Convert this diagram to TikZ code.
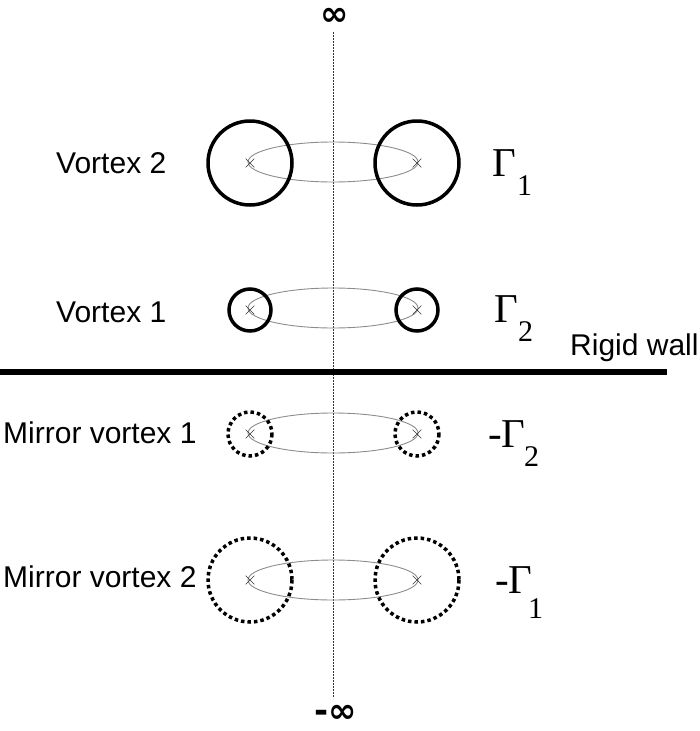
\documentclass[tikz,border=0pt]{standalone}
\usepackage{fontspec}
\setmainfont{Liberation Sans}
\newfontfamily\gfont{Liberation Serif}
\newfontfamily\dvfont{DejaVu Sans}
\usetikzlibrary{shapes.misc}
\begin{document}
\begin{tikzpicture}[x=1pt,y=-1pt,
  lab/.style={font=\fontsize{30}{36}\selectfont, inner sep=0pt, anchor=base west},
  gam/.style={font=\gfont\fontsize{41}{43}\selectfont, inner sep=0pt, anchor=base west},
  gsub/.style={font=\gfont\fontsize{30}{32}\selectfont, inner sep=0pt, anchor=base west},
  infl/.style={font=\dvfont\bfseries\fontsize{34}{36}\selectfont, inner sep=0pt, anchor=base},
  vsolid/.style={draw=black, line width=3.5pt},
  vdot/.style={draw=black, line width=3.5pt, dash pattern=on 3.5pt off 3pt},
  orbit/.style={draw=black!45, line width=0.9pt},
  axisline/.style={draw=black!80, line width=0.8pt, dash pattern=on 2pt off 1pt},
  wall/.style={draw=black, line width=6pt},
  xm/.style={cross out, draw=black!80, line width=0.6pt, minimum size=8pt, inner sep=0pt}
]
\useasboundingbox (0,0) rectangle (700,731);

% axis
\node[infl] (inf) at (335,25) {∞};
\node[infl] (minf) at (336,722) {-∞};
\coordinate (axtop) at (333,32);
\coordinate (axbot) at (333,698);
\draw[axisline] (axtop) -- (axbot);

% wall
\coordinate (wallL) at (0,372);
\coordinate (wallR) at (667,372);
\draw[wall] (wallL) -- (wallR);
\node[lab] (rw) at (570,355) {Rigid wall};

% orbits
\draw[orbit] (333,162) ellipse [x radius=85, y radius=20];
\draw[orbit] (333,308) ellipse [x radius=85, y radius=20];
\draw[orbit] (333,433) ellipse [x radius=85, y radius=20];
\draw[orbit] (333,580) ellipse [x radius=85, y radius=20];

% vortex centres
\node[xm] (a1) at (250,163) {};
\node[xm] (b1) at (417,163) {};
\node[xm] (a2) at (250,310) {};
\node[xm] (b2) at (417,310) {};
\node[xm] (a3) at (250,434) {};
\node[xm] (b3) at (417,434) {};
\node[xm] (a4) at (250,580) {};
\node[xm] (b4) at (417,580) {};

% vortex cores
\draw[vsolid] (a1) circle[radius=42];
\draw[vsolid] (b1) circle[radius=42];
\draw[vsolid] (a2) circle[radius=21];
\draw[vsolid] (b2) circle[radius=21];
\draw[vdot] (a3) circle[radius=22];
\draw[vdot] (b3) circle[radius=22];
\draw[vdot] (a4) circle[radius=42];
\draw[vdot] (b4) circle[radius=42];

% labels
\node[lab] (l1) at (56,173) {Vortex 2};
\node[lab] (l2) at (56,322) {Vortex 1};
\node[lab] (l3) at (3,443) {Mirror vortex 1};
\node[lab] (l4) at (3,587) {Mirror vortex 2};

% circulations
\node[gam] (g1) at (492,176) {Γ};
\node[gsub] (g1s) at (517,195) {1};
\node[gam] (g2) at (494,322) {Γ};
\node[gsub] (g2s) at (518,341) {2};
\node[gam] (g3) at (488,447) {-Γ};
\node[gsub] (g3s) at (524,466) {2};
\node[gam] (g4) at (495,593) {-Γ};
\node[gsub] (g4s) at (528,618) {1};
\end{tikzpicture}
\end{document}
